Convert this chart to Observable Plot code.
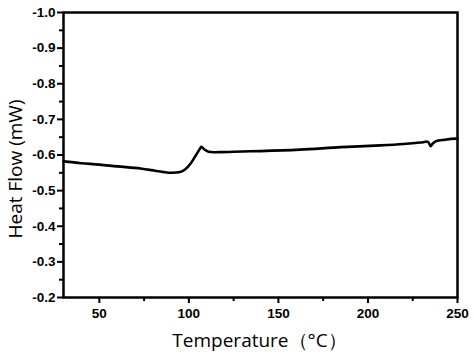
<!DOCTYPE html>
<html>
<head>
<meta charset="utf-8">
<script src="https://cdn.jsdelivr.net/npm/d3@7"></script>
<script src="https://cdn.jsdelivr.net/npm/@observablehq/plot@0.6"></script>
<style>
  html, body { margin: 0; padding: 0; background: #fff; }
  #chart svg { display: block; }
</style>
</head>
<body>
<div id="chart"></div>
<script>
const temperature = [30, 40, 50, 60, 73, 81, 86, 90, 95, 98, 101, 104, 106, 107, 108.5, 111, 117, 130, 140, 162, 185, 207, 220, 231, 233.5, 235, 236, 238, 243, 249, 250];
const heatFlow = [-0.582, -0.577, -0.573, -0.568, -0.562, -0.556, -0.552, -0.550, -0.552, -0.560, -0.576, -0.600, -0.616, -0.623, -0.616, -0.609, -0.608, -0.610, -0.611, -0.615, -0.622, -0.627, -0.631, -0.636, -0.637, -0.625, -0.631, -0.639, -0.643, -0.646, -0.646];
const xMajorTicks = [50, 100, 150, 200, 250];
const xMinorTicks = [75, 125, 175, 225];
const yMajorTicks = [-1.0, -0.9, -0.8, -0.7, -0.6, -0.5, -0.4, -0.3, -0.2];
const yMinorTicks = [-0.95, -0.85, -0.75, -0.65, -0.55, -0.45, -0.35, -0.25];
const xTitle = "Temperature（°C）";
const yTitle = "Heat Flow (mW)";

const data = temperature.map((t, i) => ({t, v: heatFlow[i]}));

const chart = Plot.plot({
  width: 474,
  height: 359,
  marginLeft: 63,
  marginRight: 17,
  marginTop: 12,
  marginBottom: 62,
  style: {fontFamily: "Liberation Sans, Arial, sans-serif", fontWeight: "bold", background: "#fff", color: "#000"},
  x: {domain: [30, 250]},
  y: {domain: [-0.2, -1.0]},
  marks: [
    Plot.axisX(xMajorTicks, {tickSize: 6, tickPadding: 5, fontSize: 13.5, strokeWidth: 2, label: null, tickFormat: d => String(d)}),
    Plot.axisX(xMinorTicks, {tickSize: 4, strokeWidth: 2, label: null, tickFormat: () => ""}),
    Plot.axisY(yMajorTicks, {tickSize: 6, tickPadding: 2, fontSize: 13.5, strokeWidth: 2, label: null, tickFormat: d => d.toFixed(1)}),
    Plot.axisY(yMinorTicks, {tickSize: 4, strokeWidth: 2, label: null, tickFormat: () => ""}),
    Plot.frame({stroke: "#000", strokeWidth: 2.5}),
    Plot.line(data, {x: "t", y: "v", stroke: "#000", strokeWidth: 2.6, curve: "catmull-rom"}),
    Plot.text([xTitle], {frameAnchor: "bottom", dy: 49, dx: -1, fontSize: 19, fontWeight: "normal", textAnchor: "middle", fontFamily: "Open Sans, sans-serif", text: d => d}),
    Plot.text([yTitle], {frameAnchor: "left", dx: -48, dy: 14, rotate: -90, fontSize: 19, fontWeight: "normal", textAnchor: "middle", fontFamily: "Open Sans, sans-serif", text: d => d})
  ]
});
document.getElementById("chart").appendChild(chart);
</script>
</body>
</html>
